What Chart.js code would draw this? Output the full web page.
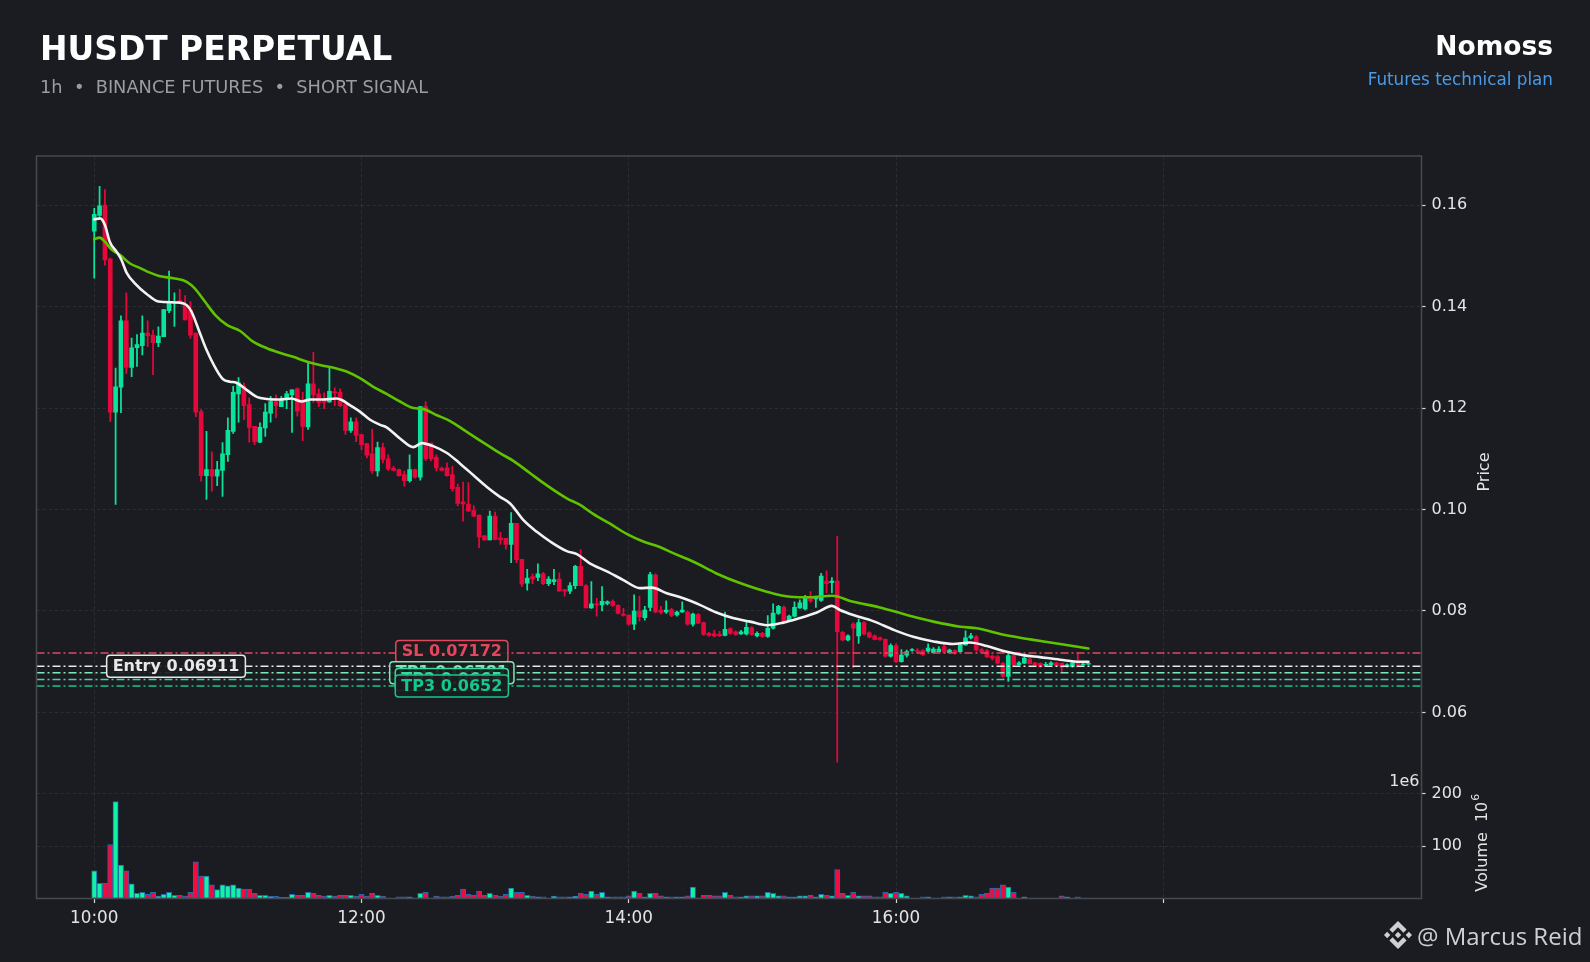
<!DOCTYPE html>
<html><head><meta charset="utf-8">
<script src="https://cdn.jsdelivr.net/npm/chart.js@4.4.1/dist/chart.umd.min.js"></script>
<style>
html,body{margin:0;padding:0;background:#1b1c21;}
body{width:1590px;height:962px;position:relative;overflow:hidden;font-family:"DejaVu Sans",sans-serif;}
#c{position:absolute;left:0;top:0;}
.t{position:absolute;white-space:pre;line-height:1;}
</style></head>
<body>
<canvas id="c" width="1590" height="962"></canvas>
<div class="t" style="left:40px;top:33px;font-size:32.9px;font-weight:bold;color:#ffffff;">HUSDT PERPETUAL</div>
<div class="t" style="left:40px;top:77.6px;font-size:17.8px;color:#9b9da3;">1h  •  BINANCE FUTURES  •  SHORT SIGNAL</div>
<div class="t" style="right:37px;top:33px;font-size:26.5px;font-weight:bold;color:#ffffff;">Nomoss</div>
<div class="t" style="right:37px;top:71.4px;font-size:16.8px;color:#4a9be6;">Futures technical plan</div>
<svg style="position:absolute;left:1384px;top:921px;" width="28" height="28" viewBox="0 0 126.61 126.61" fill="#cfd0d4">
<path d="M38.73,53.2,63.3,28.63,87.89,53.22l14.3-14.3L63.3,0,24.43,38.88Z"/>
<path d="M0,63.31l14.3-14.3,14.3,14.3L14.3,77.61Z"/>
<path d="M38.73,73.41,63.3,98l24.59-24.59,14.3,14.29,0,0L63.3,126.61,24.43,87.74l0,0Z"/>
<path d="M98,63.31l14.3-14.3,14.3,14.3-14.3,14.3Z"/>
<path d="M77.83,63.3h0L63.3,48.76,52.56,59.5h0l-1.24,1.23-2.54,2.55h0l0,0L63.3,77.83,77.83,63.3h0Z"/>
</svg>
<div class="t" style="left:1417px;top:923.5px;font-family:'Open Sans',sans-serif;font-size:24px;color:#cfd0d4;">@ Marcus Reid</div>
<script>
// ---------- DATA ----------
const opens = [
.1549,.1580,.1600,.1494,.1192,.1241,.1372,.1280,.1319,.1323,.1348,.1344,.1329,.1341,.1392,.1407,.1412,.1403,.1394,.1348,
.1193,.1067,.1079,.1066,.1077,.1108,.1154,.1228,.1243,.1207,.1164,.1133,.1161,.1190,.1213,.1203,.1217,.1226,.1238,.1217,
.1163,.1248,.1228,.1217,.1212,.1232,.1231,.1207,.1156,.1173,.1148,.1130,.1110,.1076,.1122,.1100,.1081,.1079,.1069,.1057,
.1079,.1064,.1203,.1131,.1103,.1081,.1082,.1069,.1044,.1015,.1011,.0998,.0989,.0948,.0940,.0987,.0944,.0943,.0931,.0973,
.0902,.0855,.0868,.0866,.0873,.0854,.0858,.0863,.0842,.0839,.0850,.0888,.0850,.0806,.0814,.0812,.0815,.0819,.0811,.0794,
.0792,.0774,.0800,.0787,.0807,.0871,.0802,.0798,.0803,.0792,.0798,.0798,.0774,.0793,.0777,.0756,.0755,.0754,.0752,.0765,
.0759,.0755,.0755,.0767,.0751,.0756,.0750,.0766,.0795,.0807,.0780,.0790,.0806,.0804,.0825,.0824,.0821,.0859,.0856,.0859,
.0758,.0743,.0774,.0751,.0777,.0757,.0751,.0747,.0744,.0711,.0732,.0700,.0713,.0722,.0722,.0722,.0721,.0718,.0720,.0730,
.0718,.0722,.0720,.0733,.0747,.0749,.0724,.0722,.0711,.0710,.0697,.0671,.0712,.0694,.0697,.0705,.0698,.0697,.0693,.0694,
.0698,.0697,.0690,.0690,.0697,.0694,.0695];
const highs = [
.1594,.1637,.1631,.1496,.1279,.1382,.1427,.1338,.1345,.1382,.1372,.1354,.1360,.1394,.1470,.1427,.1434,.1422,.1410,.1348,
.1197,.1154,.1114,.1095,.1132,.1181,.1243,.1260,.1250,.1220,.1164,.1171,.1209,.1223,.1226,.1223,.1233,.1236,.1240,.1231,
.1290,.1310,.1238,.1230,.1281,.1240,.1238,.1207,.1181,.1181,.1148,.1130,.1158,.1133,.1131,.1108,.1085,.1080,.1076,.1108,
.1080,.1203,.1213,.1131,.1108,.1084,.1092,.1085,.1050,.1054,.1053,.1008,.0989,.0949,.0997,.0995,.0955,.0943,.0994,.0973,
.0902,.0882,.0873,.0893,.0876,.0868,.0882,.0875,.0842,.0856,.0890,.0921,.0852,.0858,.0825,.0848,.0820,.0822,.0812,.0805,
.0792,.0832,.0829,.0809,.0876,.0873,.0809,.0820,.0805,.0800,.0818,.0800,.0796,.0795,.0778,.0758,.0762,.0760,.0798,.0767,
.0761,.0762,.0780,.0769,.0759,.0758,.0791,.0814,.0811,.0810,.0792,.0818,.0822,.0831,.0838,.0827,.0874,.0879,.0866,.0947,
.0760,.0753,.0777,.0784,.0779,.0759,.0753,.0749,.0745,.0735,.0735,.0724,.0723,.0726,.0726,.0724,.0735,.0728,.0730,.0736,
.0725,.0724,.0736,.0761,.0756,.0752,.0727,.0724,.0713,.0712,.0699,.0717,.0714,.0700,.0712,.0707,.0699,.0698,.0699,.0700,
.0699,.0698,.0696,.0702,.0717,.0698,.0697];
const lows = [
.1456,.1578,.1482,.1173,.1010,.1191,.1268,.1262,.1282,.1305,.1321,.1266,.1321,.1341,.1388,.1361,.1408,.1374,.1338,.1183,
.1056,.1020,.1036,.1047,.1026,.1095,.1150,.1172,.1177,.1133,.1128,.1132,.1144,.1172,.1181,.1203,.1199,.1152,.1184,.1136,
.1158,.1211,.1203,.1199,.1211,.1205,.1203,.1148,.1152,.1134,.1118,.1102,.1071,.1066,.1092,.1077,.1076,.1066,.1046,.1054,
.1062,.1058,.1097,.1096,.1076,.1076,.1066,.1036,.1007,.0977,.0997,.0986,.0925,.0939,.0940,.0940,.0931,.0922,.0895,.0895,
.0848,.0841,.0854,.0860,.0852,.0850,.0852,.0839,.0829,.0834,.0844,.0850,.0806,.0805,.0790,.0800,.0812,.0809,.0794,.0790,
.0772,.0763,.0780,.0782,.0800,.0796,.0794,.0795,.0789,.0790,.0797,.0772,.0770,.0775,.0752,.0750,.0749,.0750,.0751,.0754,
.0752,.0754,.0753,.0752,.0749,.0748,.0748,.0764,.0793,.0778,.0779,.0788,.0805,.0802,.0817,.0807,.0819,.0836,.0836,.0502,
.0741,.0741,.0688,.0736,.0753,.0747,.0743,.0742,.0709,.0709,.0698,.0699,.0709,.0721,.0717,.0712,.0719,.0717,.0719,.0717,
.0717,.0715,.0719,.0732,.0745,.0721,.0718,.0708,.0703,.0695,.0669,.0661,.0690,.0693,.0696,.0695,.0693,.0689,.0692,.0693,
.0691,.0680,.0689,.0689,.0693,.0693,.0694];
const closes = [
.1582,.1599,.1492,.1192,.1242,.1372,.1280,.1319,.1325,.1348,.1343,.1329,.1342,.1394,.1407,.1408,.1409,.1374,.1344,.1192,
.1067,.1079,.1066,.1079,.1110,.1156,.1231,.1250,.1205,.1162,.1134,.1162,.1192,.1213,.1205,.1217,.1228,.1236,.1194,.1164,
.1248,.1226,.1211,.1211,.1233,.1230,.1205,.1156,.1173,.1146,.1128,.1107,.1076,.1122,.1099,.1080,.1077,.1067,.1057,.1079,
.1064,.1203,.1100,.1100,.1082,.1077,.1067,.1041,.1012,.1011,.0997,.0987,.0946,.0940,.0987,.0941,.0940,.0931,.0973,.0901,
.0853,.0865,.0863,.0873,.0854,.0863,.0862,.0839,.0839,.0850,.0888,.0850,.0806,.0814,.0812,.0819,.0818,.0811,.0795,.0791,
.0774,.0800,.0789,.0802,.0872,.0798,.0797,.0802,.0791,.0798,.0802,.0774,.0794,.0776,.0754,.0752,.0751,.0751,.0764,.0756,
.0754,.0759,.0768,.0754,.0756,.0750,.0766,.0796,.0809,.0780,.0790,.0807,.0816,.0825,.0820,.0826,.0869,.0854,.0859,.0759,
.0743,.0751,.0766,.0777,.0755,.0749,.0744,.0744,.0711,.0732,.0700,.0713,.0720,.0724,.0720,.0714,.0727,.0725,.0725,.0719,
.0723,.0718,.0733,.0747,.0751,.0723,.0720,.0710,.0707,.0697,.0671,.0712,.0694,.0698,.0707,.0696,.0694,.0690,.0694,.0698,
.0692,.0689,.0694,.0698,.0694,.0696,.0696];
const volumes = [
53,29,29,103,185,64,53,28,10,12,8,12,4.5,8,12,6,6,4.5,12,70,
43,43,26,17,26,24,26,20,18,18,10,6,6,4,4,2,2,8,6,6,
12,10,6,4.5,6,4.5,6,6,6,4.5,8,4.5,10,6,4.5,1,1,3,3,3,
1,10,12,1,4.5,3,3,4.5,6,18,8,6,14,6,10,6,4.5,8,20,12,
12,6,4.5,3,3,1,4.5,3,3,3,4.5,10,8,14,8,12,3,3,3,3,
5,14,10,3,10,10,5,3,3,3,3,5,22,1,6,6,5,5,12,6,
3,3,5,5,5,5,12,10,5,5,3,3,5,5,6,3,8,6,5,55,
10,6,12,5,5,5,3,3,12,10,12,10,5,1,1,3,3,1,1,3,
3,3,3,6,5,3,8,10,20,20,26,22,12,1,3,1,1,1,1,1,
1,5,3,1,3,1,1];
const emaFastX = [0,1.1,2,2.9,4.2,5.1,6.1,7.6,9.8,12,16,17.3,18.2,19.8,21,22.9,24.1,25.4,26.6,28.5,30.4,32.3,34.7,36.9,38.8,40.4,42.8,45.3,46.3,47.8,49.7,51.6,53.5,54.7,57.2,59.7,61.3,63.4,65.9,68.4,70.9,73.4,75.9,77.8,80.3,82.8,85.3,88.4,90.3,92.7,95.9,99,102.1,104.3,107.1,110.2,113.3,116.4,119.5,122.7,125.8,128.9,132,135.2,138,139.5,142,145.7,149.5,153.2,157,160.7,163.8,167,170.1,173.8,176.9,180.7,184.4,186];
const emaFastY = [.1572,.1574,.1561,.1528,.1508,.1492,.1466,.1446,.1425,.1410,.1408,.1403,.1390,.1347,.1315,.1275,.1257,.1252,.1250,.1236,.1222,.1218,.1217,.1219,.1213,.1217,.1217,.1219,.1216,.1206,.1193,.1177,.1167,.1162,.1140,.1123,.1131,.1125,.1112,.1091,.1068,.1045,.1025,.1012,.0979,.0956,.0937,.0918,.0912,.0894,.0878,.0861,.0845,.0846,.0835,.0825,.0812,.0797,.0786,.0779,.0772,.0777,.0786,.0797,.0810,.0802,.0792,.0780,.0763,.0749,.0740,.0735,.0738,.0731,.0721,.0713,.0709,.0704,.0700,.0700];
const emaSlowX = [0,1,2,3.3,4.8,6.7,8.6,10.4,12.3,14.8,17.3,18.8,20.7,22.6,24.8,27.3,29.7,32.3,34.7,37.2,39.7,42.2,45.3,47.2,49.7,52.2,54.7,57.2,59.7,61.6,64.1,66.5,69.7,72.8,75.9,78.4,81.5,84.6,88.4,90.9,93.4,96.5,99.6,102.7,105.8,108.3,112.1,116.4,120.8,125.8,130.2,133.9,138,142,147,152,157,162,165.1,170.1,175.1,180.7,186];
const emaSlowY = [.1533,.1536,.1528,.1512,.1502,.1485,.1476,.1467,.1460,.1456,.1449,.1436,.1410,.1384,.1364,.1352,.1331,.1318,.1309,.1301,.1292,.1285,.1278,.1272,.1259,.1242,.1228,.1213,.1200,.1198,.1186,.1175,.1153,.1132,.1111,.1096,.1072,.1048,.1022,.1009,.0991,.0972,.0952,.0937,.0926,.0914,.0897,.0874,.0855,.0838,.0828,.0827,.0830,.0818,.0807,.0792,.0779,.0769,.0766,.0753,.0744,.0735,.0726];
const levelNames = ['SL','Entry','TP1','TP2','TP3'];
const levelValues = [0.07172,0.06911,0.06781,0.0665,0.0652];
const priceTicks = [0.06,0.08,0.10,0.12,0.14,0.16];
const volumeTicks = [100,200];
const xTickValues = [0,50,100,150,200];
const xTickLabels = ['10:00','12:00','14:00','16:00',''];

// ---------- STYLE ----------
const X_MIN = -10.8, X_MAX = 248.3;
const CANDLE_UP = '#0ae39b', CANDLE_DN = '#e6073b';
const VOL_UP = '#12f2a3', VOL_DN = '#f30a3f';
const levelColors = ['#e3475e','#e8e8e8','#7ee6b8','#3dd89c','#14c78a'];
const GRID = 'rgba(255,255,255,0.075)';
const TICKTXT = '#e4e4e4';

Chart.defaults.font.family = '"DejaVu Sans", sans-serif';
const idx = opens.map((_, i) => i);
const up = i => closes[i] >= opens[i];

const datasets = [
  { type:'bar', label:'wick', data: idx.map(i => ({x:i, y:[lows[i], highs[i]]})), yAxisID:'y',
    barThickness:1.1, grouped:false, order:9,
    backgroundColor: c => up(c.dataIndex) ? CANDLE_UP : CANDLE_DN },
  { type:'bar', label:'body', data: idx.map(i => ({x:i, y:[opens[i], closes[i]]})), yAxisID:'y',
    barThickness:4, minBarLength:1, grouped:false, order:8,
    backgroundColor: c => up(c.dataIndex) ? CANDLE_UP : CANDLE_DN },
  { type:'bar', label:'volume', data: idx.map(i => ({x:i, y:volumes[i]})), yAxisID:'yv',
    barThickness:5.3, grouped:false, order:10, borderWidth:1, borderColor:'#2569ad', borderSkipped:false,
    backgroundColor: c => up(c.dataIndex) ? VOL_UP : VOL_DN },
];
levelNames.forEach((n, k) => {
  datasets.push({ type:'line', label:n, yAxisID:'y', order:4,
    data:[{x:X_MIN, y:levelValues[k]}, {x:X_MAX, y:levelValues[k]}],
    borderColor:levelColors[k], borderWidth:1.5, borderDash:[8,3,2,3], pointRadius:0 });
});
datasets.push({ type:'line', label:'EMA slow', yAxisID:'y', order:2,
  data: emaSlowX.map((x,k)=>({x, y:emaSlowY[k]})), borderColor:'#5fc300', borderWidth:2.6,
  pointRadius:0, cubicInterpolationMode:'monotone', borderCapStyle:'round', borderJoinStyle:'round' });
datasets.push({ type:'line', label:'EMA fast', yAxisID:'y', order:1,
  data: emaFastX.map((x,k)=>({x, y:emaFastY[k]})), borderColor:'#f2f2f2', borderWidth:2.6,
  pointRadius:0, cubicInterpolationMode:'monotone', borderCapStyle:'round', borderJoinStyle:'round' });

function rrect(ctx, x, y, w, h, r){
  ctx.beginPath();
  ctx.moveTo(x+r, y); ctx.lineTo(x+w-r, y); ctx.quadraticCurveTo(x+w, y, x+w, y+r);
  ctx.lineTo(x+w, y+h-r); ctx.quadraticCurveTo(x+w, y+h, x+w-r, y+h);
  ctx.lineTo(x+r, y+h); ctx.quadraticCurveTo(x, y+h, x, y+h-r);
  ctx.lineTo(x, y+r); ctx.quadraticCurveTo(x, y, x+r, y); ctx.closePath();
}

const overlay = {
  id:'overlay',
  afterDatasetsDraw(chart){
    const {ctx, chartArea:a} = chart;
    const xs = chart.scales.x, ys = chart.scales.y, yv = chart.scales.yv;
    ctx.save();
    // level labels
    ctx.font = 'bold 16px "DejaVu Sans"';
    ctx.textAlign = 'center'; ctx.textBaseline = 'middle';
    levelNames.forEach((n, k) => {
      const txt = n + ' ' + String(levelValues[k]);
      const cx = xs.getPixelForValue(n === 'Entry' ? 15.3 : 66.9);
      const cy = ys.getPixelForValue(levelValues[k]) - (n === 'SL' ? 1.5 : 0);
      const w = ctx.measureText(txt).width + 12, h = 22;
      rrect(ctx, cx - w/2, cy - h/2, w, h, 3.5);
      ctx.fillStyle = 'rgba(27,28,33,0.92)'; ctx.fill();
      ctx.lineWidth = 1.5; ctx.strokeStyle = levelColors[k]; ctx.stroke();
      ctx.fillStyle = levelColors[k];
      ctx.fillText(txt, cx, cy + 0.5);
    });
    // frame
    ctx.strokeStyle = '#46494f'; ctx.lineWidth = 1.5;
    ctx.strokeRect(a.left, a.top, a.right - a.left, a.bottom - a.top);
    // offset text
    ctx.font = '16px "DejaVu Sans"'; ctx.fillStyle = TICKTXT;
    ctx.textAlign = 'right'; ctx.textBaseline = 'alphabetic';
    ctx.fillText('1e6', a.right - 2, yv.top - 2);
    // axis titles
    ctx.textAlign = 'center'; ctx.textBaseline = 'middle';
    ctx.save();
    ctx.translate(1485, (ys.top + ys.bottom)/2); ctx.rotate(-Math.PI/2);
    ctx.font = '16px "DejaVu Sans"'; ctx.fillText('Price', 0, 0);
    ctx.restore();
    ctx.save();
    ctx.translate(1483, (yv.top + yv.bottom)/2); ctx.rotate(-Math.PI/2);
    ctx.font = '16px "DejaVu Sans"';
    const t1 = 'Volume  10', w1 = ctx.measureText(t1).width;
    ctx.font = '11px "DejaVu Sans"';
    const w2 = ctx.measureText('6').width;
    const start = -(w1 + w2)/2;
    ctx.textAlign = 'left';
    ctx.font = '16px "DejaVu Sans"'; ctx.fillText(t1, start, 0);
    ctx.font = '11px "DejaVu Sans"'; ctx.fillText('6', start + w1 + 1, -7);
    ctx.restore();
    ctx.restore();
  }
};

new Chart(document.getElementById('c'), {
  type:'bar',
  data:{ datasets },
  options:{
    responsive:false, animation:false, devicePixelRatio:1,
    layout:{ padding:{ left:36.5, top:156, right:0, bottom:0 } },
    plugins:{ legend:{display:false}, tooltip:{enabled:false} },
    scales:{
      x:{ type:'linear', min:X_MIN, max:X_MAX, offset:false, position:'bottom',
        afterFit: s => { s.height = 63.5; },
        afterBuildTicks: s => { s.ticks = xTickValues.map(v => ({value:v})); },
        ticks:{ color:TICKTXT, font:{size:16.8}, padding:6, maxRotation:0, autoSkip:false,
          callback: v => { const k = xTickValues.indexOf(v); return k >= 0 ? xTickLabels[k] : ''; } },
        grid:{ color:GRID, offset:false, tickColor:'#d8d8d8', tickLength:4.5, tickWidth:1.2 },
        border:{ display:false, dash:[3.5,2.5] } },
      y:{ type:'linear', position:'right', stack:'panes', stackWeight:632, min:0.0451, max:0.1697,
        afterFit: s => { s.width = 168.5; },
        afterBuildTicks: s => { s.ticks = priceTicks.map(v => ({value:v})); },
        ticks:{ color:TICKTXT, font:{size:16}, padding:6, callback: v => v.toFixed(2) },
        grid:{ color:GRID, tickColor:'#d8d8d8', tickLength:4, tickWidth:1.2 },
        border:{ display:false, dash:[3.5,2.5] } },
      yv:{ type:'linear', position:'right', stack:'panes', stackWeight:110.5, min:0, max:210.9,
        afterFit: s => { s.width = 168.5; },
        afterBuildTicks: s => { s.ticks = volumeTicks.map(v => ({value:v})); },
        ticks:{ color:TICKTXT, font:{size:16}, padding:6, callback: v => String(v) },
        grid:{ color:GRID, tickColor:'#d8d8d8', tickLength:4, tickWidth:1.2 },
        border:{ display:false, dash:[3.5,2.5] } }
    }
  },
  plugins:[overlay]
});
</script>
</body></html>
